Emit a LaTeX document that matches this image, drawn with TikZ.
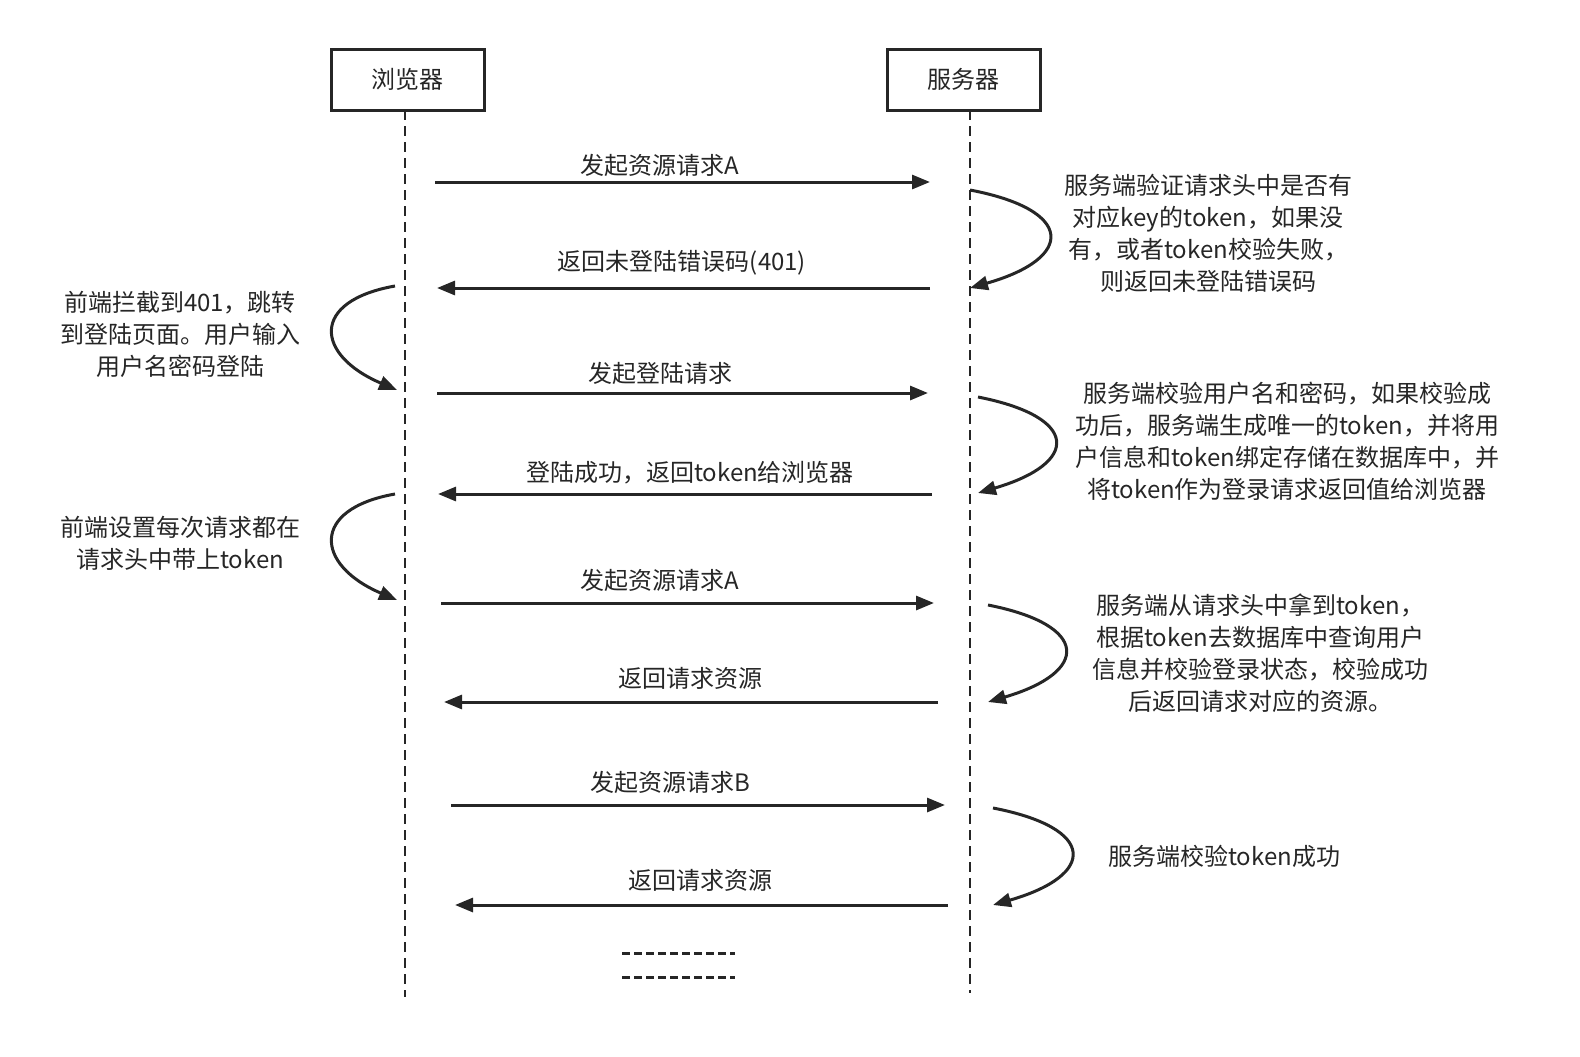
\documentclass[tikz,border=0pt]{standalone}
\usepackage{fontspec}
\setmainfont{Noto Sans CJK SC}
\usetikzlibrary{arrows.meta}
\begin{document}
\begin{tikzpicture}[x=0.5pt,y=-0.5pt,
  every node/.style={font=\fontsize{12}{16}\selectfont, text=black!85},
  box/.style={draw=black!85, line width=1.5pt, minimum width=76.5pt, minimum height=30.5pt, inner sep=0pt},
  life/.style={draw=black!85, line width=1.2pt, dash pattern=on 5pt off 3pt},
  msg/.style={draw=black!85, line width=1.5pt, -{Triangle[length=9pt,width=7pt]}},
  loopa/.style={draw=black!85, line width=1.5pt, -{Triangle[length=9pt,width=7pt]}},
  note/.style={align=center, inner sep=0pt}]
\useasboundingbox (0,0) rectangle (1580,1056);
\node[box] (b) at (407.5,79.5) {浏览器};
\node[box] (s) at (963.5,79.5) {服务器};
\coordinate (bb) at (405,997); \coordinate (sb) at (970,993);
\draw[life] (405,110) -- (bb);
\draw[life] (970,110) -- (sb);
% messages
\foreach \xa/\xb/\y/\lx/\ly/\t [count=\i] in {
 435/930/182/660/165/{发起资源请求A},
 930/437/288/682/263/{返回未登陆错误码(401)},
 437/928/393/660/373/{发起登陆请求},
 932/438/494/690/473/{登陆成功，返回token给浏览器},
 441/934/603/660/580/{发起资源请求A},
 938/444/702/690/678/{返回请求资源},
 451/945/805/670/782/{发起资源请求B},
 948/455/905/700/880/{返回请求资源}}{
 \coordinate (m\i a) at (\xa,\y); \coordinate (m\i b) at (\xb,\y);
 \draw[msg] (m\i a) -- (m\i b);
 \node (l\i) at (\lx,\ly) {\t};
}
% self loops server
\foreach \ya/\yb/\xs/\bx [count=\i] in {190/288/970/1075, 397/493/978/1080, 605/702/988/1090, 808/905/993/1097}{
 \coordinate (ra\i) at (\xs,\ya); \coordinate (rb\i) at (\xs,\yb);
 \draw[loopa] (ra\i) .. controls (\bx,\ya+20) and (\bx,\yb-30) .. (rb\i);
}
% left loops
\foreach \ya/\yb [count=\i] in {286/390, 494/600}{
 \coordinate (la\i) at (395,\ya); \coordinate (lb\i) at (397,\yb);
 \draw[loopa] (la\i) .. controls (310,\ya+15) and (315,\yb-35) .. (lb\i);
}
\node[note] (n1) at (1208,233) {服务端验证请求头中是否有\\对应key的token，如果没\\有，或者token校验失败，\\则返回未登陆错误码};
\node[note] (n2) at (1287,441) {服务端校验用户名和密码，如果校验成\\功后，服务端生成唯一的token，并将用\\户信息和token绑定存储在数据库中，并\\将token作为登录请求返回值给浏览器};
\node[note] (n3) at (1260,653) {服务端从请求头中拿到token，\\根据token去数据库中查询用户\\信息并校验登录状态，校验成功\\后返回请求对应的资源。};
\node[note] (n4) at (1224,856) {服务端校验token成功};
\node[note] (n5) at (180,334) {前端拦截到401，跳转\\到登陆页面。用户输入\\用户名密码登陆};
\node[note] (n6) at (180,543) {前端设置每次请求都在\\请求头中带上token};
\coordinate (d1a) at (622,953); \coordinate (d1b) at (735,953);
\coordinate (d2a) at (622,977); \coordinate (d2b) at (735,977);
\draw[draw=black!85, line width=1.5pt, dash pattern=on 4pt off 2pt] (d1a) -- (d1b);
\draw[draw=black!85, line width=1.5pt, dash pattern=on 4pt off 2pt] (d2a) -- (d2b);
\end{tikzpicture}
\end{document}
